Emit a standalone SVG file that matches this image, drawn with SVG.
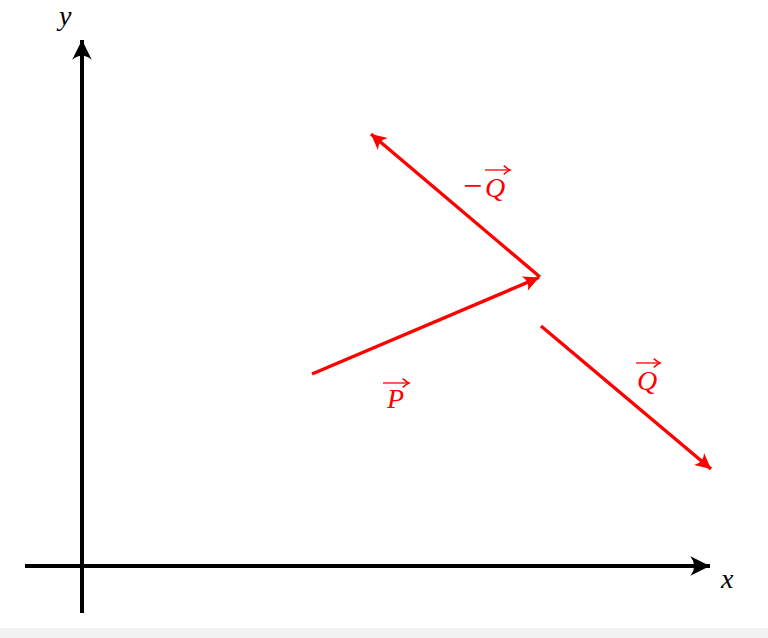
<svg xmlns="http://www.w3.org/2000/svg" width="768" height="638" viewBox="0 0 768 638">
<style>
.axis{stroke:#000;stroke-width:4;fill:none}
.vec{stroke:#ff0000;stroke-width:3.4;fill:none}
.acc{stroke:#ff0000;stroke-width:1.3;fill:none}
.lbl{font-family:"Liberation Serif","DejaVu Serif",serif;font-style:italic;font-size:28px}
.red{fill:#ff0000}
</style>
<defs>
<marker id="ab" markerUnits="userSpaceOnUse" markerWidth="24" markerHeight="24" viewBox="-20 -10 22 20" refX="0" refY="0" orient="auto">
<path d="M0,0 L-18,-9 Q-11,0 -18,9 Z" fill="#000"/>
</marker>
<marker id="ar" markerUnits="userSpaceOnUse" markerWidth="20" markerHeight="20" viewBox="-16 -8 18 16" refX="0" refY="0" orient="auto">
<path d="M0,0 L-14,-7 Q-8.5,0 -14,7 Z" fill="#ff0000"/>
</marker>
<marker id="aa" markerUnits="userSpaceOnUse" markerWidth="10" markerHeight="10" viewBox="-6 -4 7 8" refX="0" refY="0" orient="auto">
<path d="M-5,-3.5 Q-2,-0.8 0,0 Q-2,0.8 -5,3.5" stroke="#ff0000" stroke-width="1.2" fill="none"/>
</marker>
</defs>
<rect x="0" y="0" width="768" height="638" fill="#ffffff"/>
<rect x="0" y="628" width="768" height="10" fill="#f2f2f2"/>
<g id="connectors">
<line id="x-axis" class="axis" x1="25" y1="566" x2="710" y2="566" marker-end="url(#ab)"/>
<line id="y-axis" class="axis" x1="82" y1="613" x2="82" y2="40" marker-end="url(#ab)"/>
<line id="vec-P" class="vec" x1="312" y1="374" x2="539" y2="277.5" marker-end="url(#ar)"/>
<line id="vec-negQ" class="vec" x1="540" y1="277" x2="371" y2="134" marker-end="url(#ar)"/>
<line id="vec-Q" class="vec" x1="541" y1="326" x2="711" y2="469" marker-end="url(#ar)"/>
</g>
<g id="label-y"><text class="lbl" x="59" y="25">y</text></g>
<g id="label-x"><text class="lbl" x="721" y="588">x</text></g>
<g id="label-P">
<line class="acc" x1="383" y1="383" x2="409" y2="383" marker-end="url(#aa)"/>
<text class="lbl red" x="387" y="408">P</text>
</g>
<g id="label-negQ">
<line class="acc" x1="485" y1="170" x2="510" y2="170" marker-end="url(#aa)"/>
<text class="lbl red" x="463" y="197"><tspan style="font-style:normal;font-size:34px">−</tspan><tspan x="485">Q</tspan></text>
</g>
<g id="label-Q">
<line class="acc" x1="636" y1="363" x2="660" y2="363" marker-end="url(#aa)"/>
<text class="lbl red" x="637" y="390">Q</text>
</g>
</svg>
